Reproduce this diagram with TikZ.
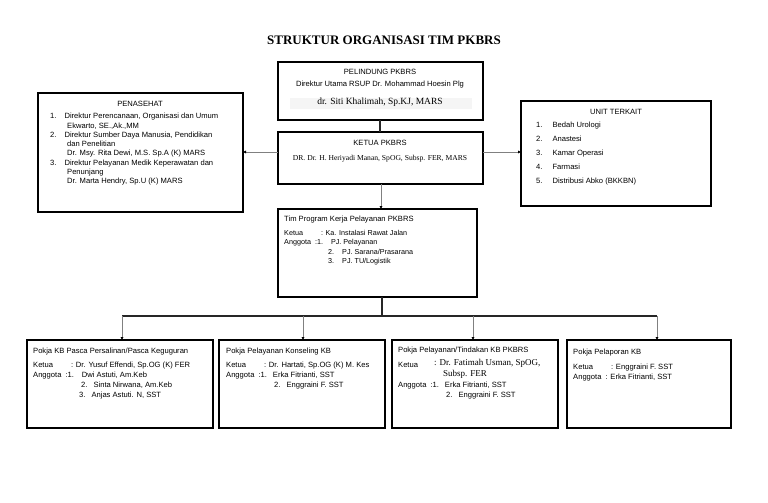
\documentclass[tikz,border=0pt]{standalone}
\usepackage{fontspec}
\setmainfont{Liberation Sans}
\newfontfamily\srf{Liberation Serif}
\usetikzlibrary{arrows.meta}
\begin{document}
\begin{tikzpicture}[x=1pt,y=-1pt,
 box/.style={draw,line width=1.1pt},
 txt/.style={font=\fontsize{7.6}{9.6}\selectfont,align=left,anchor=north west,inner sep=0},
 ctxt/.style={font=\fontsize{7.6}{9.6}\selectfont,align=center,anchor=north,inner sep=0},
 conn/.style={draw,line width=1.3pt,gray!30!black},
 arr/.style={draw,gray,line width=0.4pt,-{Latex[length=3pt,width=3pt,black]}}]
\useasboundingbox (0,0) rectangle (768,503);
\node[font=\srf\bfseries\fontsize{13}{15}\selectfont] (title) at (384,40) {STRUKTUR ORGANISASI TIM PKBRS};
% boxes
\draw[box] (278,62) rectangle (483,120); \coordinate (pel) at (380,120);
\node[ctxt] (pelt) at (380,69) {PELINDUNG PKBRS\\[2pt]Direktur Utama RSUP Dr. Mohammad Hoesin Plg};
\fill[gray!8] (290,98) rectangle (472,109);
\node[ctxt,font=\srf\fontsize{9.5}{11}\selectfont] (pelt2) at (380,98) {dr. Siti Khalimah, Sp.KJ, MARS};
\draw[box] (38,93) rectangle (243,212);
\node[ctxt] (pent) at (140,101) {PENASEHAT};
\node[txt,font=\fontsize{7.6}{9.3}\selectfont] (penl) at (50,113) {1.\hspace{8pt}Direktur Perencanaan, Organisasi dan Umum\\
\hspace{17pt}Ekwarto, SE.,Ak.,MM\\
2.\hspace{8pt}Direktur Sumber Daya Manusia, Pendidikan\\
\hspace{17pt}dan Penelitian\\
\hspace{17pt}Dr. Msy. Rita Dewi, M.S. Sp.A (K) MARS\\
3.\hspace{8pt}Direktur Pelayanan Medik Keperawatan dan\\
\hspace{17pt}Penunjang\\
\hspace{17pt}Dr. Marta Hendry, Sp.U (K) MARS};
\draw[box] (278,132) rectangle (483,184);
\node[ctxt] (ket) at (380,140) {KETUA PKBRS};
\node[ctxt,font=\srf\fontsize{7.6}{9}\selectfont] (ket2) at (380,155) {DR. Dr. H. Heriyadi Manan, SpOG, Subsp. FER, MARS};
\draw[box] (521,101) rectangle (711,206);
\node[ctxt] (unt) at (616,109) {UNIT TERKAIT};
\node[txt,font=\fontsize{7.6}{14}\selectfont] (unl) at (536,122) {1.\hspace{10pt}Bedah Urologi\\2.\hspace{10pt}Anastesi\\3.\hspace{10pt}Kamar Operasi\\4.\hspace{10pt}Farmasi\\5.\hspace{10pt}Distribusi Abko (BKKBN)};
\draw[box] (278,209) rectangle (477,297);
\node[txt] (tim) at (284,216) {Tim Program Kerja Pelayanan PKBRS};
\node[txt,font=\fontsize{7.2}{9.5}\selectfont] (timl) at (284,230) {Ketua\hspace{18pt}: Ka. Instalasi Rawat Jalan\\
Anggota\hspace{4pt}:1.\hspace{8pt}PJ. Pelayanan\\
\hspace{44pt}2.\hspace{8pt}PJ. Sarana/Prasarana\\
\hspace{44pt}3.\hspace{8pt}PJ. TU/Logistik};
% bottom boxes
\draw[box] (27,340) rectangle (213,428);
\node[txt] (b1) at (33,348) {Pokja KB Pasca Persalinan/Pasca Keguguran};
\node[txt,font=\fontsize{7.6}{10}\selectfont] (b1l) at (33,362) {Ketua\hspace{18pt}: Dr. Yusuf Effendi, Sp.OG (K) FER\\
Anggota\hspace{4pt}:1.\hspace{8pt}Dwi Astuti, Am.Keb\\
\hspace{48pt}2.\hspace{6pt}Sinta Nirwana, Am.Keb\\
\hspace{46pt}3.\hspace{6pt}Anjas Astuti. N, SST};
\draw[box] (219,340) rectangle (385,428);
\node[txt] (b2) at (226,348) {Pokja Pelayanan Konseling KB};
\node[txt,font=\fontsize{7.6}{10}\selectfont] (b2l) at (226,362) {Ketua\hspace{18pt}: Dr. Hartati, Sp.OG (K) M. Kes\\
Anggota\hspace{4pt}:1.\hspace{6pt}Erka Fitrianti, SST\\
\hspace{48pt}2.\hspace{6pt}Enggraini F. SST};
\draw[box] (392,340) rectangle (558,428);
\node[txt] (b3) at (398,347) {Pokja Pelayanan/Tindakan KB PKBRS};
\node[txt,font=\fontsize{7.6}{10}\selectfont] (b3a) at (398,362) {Ketua};
\node[txt,font=\srf\fontsize{9}{11}\selectfont] (b3b) at (434,359) {: Dr. Fatimah Usman, SpOG,\\\hspace{9pt}Subsp. FER};
\node[txt,font=\fontsize{7.6}{10}\selectfont] (b3l) at (398,382) {Anggota\hspace{4pt}:1.\hspace{6pt}Erka Fitrianti, SST\\
\hspace{48pt}2.\hspace{6pt}Enggraini F. SST};
\draw[box] (567,340) rectangle (731,428);
\node[txt] (b4) at (573,349) {Pokja Pelaporan KB};
\node[txt,font=\fontsize{7.6}{10}\selectfont] (b4l) at (573,364) {Ketua\hspace{18pt}: Enggraini F. SST\\
Anggota\hspace{4pt}: Erka Fitrianti, SST};
% connectors
\coordinate (k1) at (380,132);
\draw[conn] (pel) -- (k1);
\coordinate (kl) at (278,152); \coordinate (pr) at (243,152);
\coordinate (kr) at (483,152); \coordinate (ul) at (521,152);
\draw[arr] (kl) -- (pr);
\draw[arr] (kr) -- (ul);
\coordinate (kb) at (381,184); \coordinate (tt) at (381,209);
\draw[arr] (kb) -- (tt);
\coordinate (tb) at (382,297); \coordinate (bus) at (382,316);
\draw[conn] (tb) -- (bus);
\coordinate (bL) at (122,316); \coordinate (bR) at (657,316);
\draw[conn] (bL) -- (bR);
\foreach \x in {122,303,473,657}{\draw[arr] (\x,316) -- (\x,340);}
\end{tikzpicture}
\end{document}
